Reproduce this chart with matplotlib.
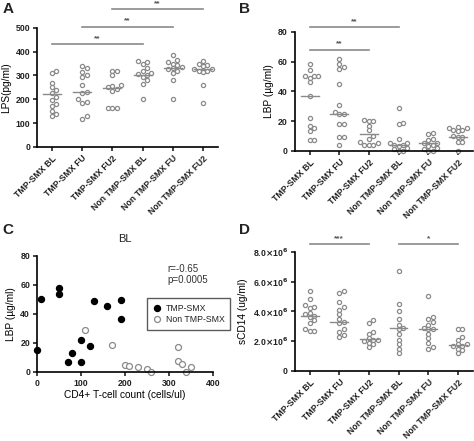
import numpy as np
import matplotlib
matplotlib.use('Agg')
import matplotlib.pyplot as plt

plt.rcParams['font.family'] = ['Liberation Sans', 'DejaVu Sans']
plt.rcParams['font.weight'] = 'bold'
plt.rcParams['text.color'] = '#222222'
plt.rcParams['xtick.color'] = '#222222'
plt.rcParams['ytick.color'] = '#222222'

groups = ['TMP-SMX BL', 'TMP-SMX FU', 'TMP-SMX FU2',
          'Non TMP-SMX BL', 'Non TMP-SMX FU', 'Non TMP-SMX FU2']

# panel A: LPS (pg/ml)
lps = [
    [320, 310, 270, 250, 240, 225, 210, 195, 180, 170, 150, 140, 130],
    [340, 330, 315, 300, 295, 260, 230, 225, 200, 190, 185, 130, 115],
    [320, 320, 300, 260, 255, 250, 245, 235, 165, 165, 165],
    [360, 355, 350, 330, 320, 310, 305, 300, 295, 280, 265, 200],
    [385, 365, 355, 350, 345, 335, 330, 325, 320, 310, 280, 200],
    [360, 350, 345, 340, 325, 325, 320, 320, 315, 260, 185],
]
lps_med = [220, 230, 248, 303, 330, 325]
lps_sig = [(1, 4, 430, '**'), (2, 5, 505, '**'), (3, 6, 578, '**')]

# panel B: LBP (ug/ml)
lbp = [
    [58, 54, 50, 50, 49, 50, 46, 37, 22, 17, 15, 13, 7, 7],
    [62, 58, 56, 55, 45, 31, 26, 25, 25, 18, 18, 9, 9, 4],
    [21, 20, 20, 17, 14, 10, 8, 6, 5, 4, 4, 4],
    [29, 19, 18, 8, 5, 5, 4, 4, 3, 2, 1, 0, 0],
    [12, 11, 8, 7, 5, 5, 4, 3, 2, 1, 0, 0],
    [16, 15, 15, 14, 14, 13, 10, 9, 9, 6, 6, 0],
]
lbp_med = [37, 25, 11, 4, 5, 9]
lbp_sig = [(1, 3, 68, '**'), (1, 4, 83, '**')]

# panel C: CD4 count vs LBP at BL
tmp_cd4 = [0, 10, 50, 50, 70, 80, 100, 100, 120, 130, 160, 190, 190]
tmp_lbp = [15, 50, 57.5, 53.5, 7, 13, 22, 6.5, 17.5, 49, 45.5, 49.5, 36.5]
non_cd4 = [110, 170, 200, 210, 230, 250, 260, 320, 320, 330, 340, 350]
non_lbp = [29, 18.5, 4.5, 4, 3.5, 2, 0, 17, 7.5, 5.5, 0, 3.5]

# panel D: sCD14 (x10^6 ug/ml)
scd14 = [
    [5.4, 4.8, 4.4, 4.3, 4.2, 3.9, 3.8, 3.7, 3.6, 3.4, 3.2, 2.8, 2.7, 2.7],
    [5.4, 5.2, 4.6, 4.3, 4.1, 3.8, 3.5, 3.3, 3.2, 2.8, 2.6, 2.4, 2.3],
    [3.4, 3.2, 2.6, 2.5, 2.2, 2.1, 2.1, 2.0, 1.9, 1.8, 1.6],
    [6.7, 4.5, 4.0, 3.5, 3.1, 2.9, 2.8, 2.5, 2.1, 1.8, 1.5, 1.2],
    [5.0, 3.6, 3.5, 3.3, 3.1, 2.9, 2.8, 2.8, 2.5, 2.2, 1.9, 1.6, 1.5],
    [2.8, 2.8, 2.3, 2.1, 1.8, 1.8, 1.7, 1.7, 1.5, 1.4, 1.2],
]
scd14_med = [3.7, 3.3, 2.15, 2.85, 2.8, 1.75]
scd14_sig = [(1, 3, 8.5, '***'), (4, 6, 8.5, '*')]

grey = '#8a8a8a'
TS = 6.3   # tick label size
LS = 7.3   # axis label size


def swarm(vals, ymax, hpx=119.0, step=30.0, r=4.4):
    # simple beeswarm: offsets in pixels converted to category units
    vals = np.asarray(vals, float)
    xs = np.zeros(len(vals))
    placed = []
    for i in np.argsort(vals):
        y = vals[i] / ymax * hpx
        for k in [0, 1, -1, 2, -2, 3, -3, 4, -4]:
            x = k * r
            if all((x - px) ** 2 + (y - py) ** 2 >= r * r * 0.95 for px, py in placed):
                break
        placed.append((x, y))
        xs[i] = x / step
    return xs


def dot_panel(ax, data, meds, ymax, sig, ylabel, yticks, yticklabels, step):
    for i, vals in enumerate(data):
        xs = i + 1 + swarm(vals, ymax, step=step)
        ax.plot(xs, vals, 'o', ms=3.0, mfc='white', mec=grey, mew=0.9, clip_on=False)
        ax.plot([i + 1 - 0.3, i + 1 + 0.3], [meds[i], meds[i]], color=grey, lw=1)
    for a, b, y, s in sig:
        ax.plot([a, b], [y, y], color=grey, lw=1.2, clip_on=False)
        ax.text((a + b) / 2, y + ymax * 0.02, s, ha='center', va='bottom',
                fontsize=6, color='#555555', clip_on=False)
    ax.set_xlim(0.5, 6.5)
    ax.set_ylim(0, ymax)
    ax.set_xticks(range(1, 7))
    ax.set_xticklabels(groups, rotation=45, ha='right', rotation_mode='anchor', fontsize=TS)
    ax.set_yticks(yticks)
    ax.set_yticklabels(yticklabels, fontsize=TS)
    ax.set_ylabel(ylabel, fontsize=LS, labelpad=3)
    for s in ['top', 'right']:
        ax.spines[s].set_visible(False)
    for s in ['left', 'bottom']:
        ax.spines[s].set_linewidth(1.2)
    ax.tick_params(width=1.2, length=3, pad=2)


fig = plt.figure(figsize=(4.74, 4.41), dpi=100)

axA = fig.add_axes([0.078, 0.667, 0.382, 0.27])
dot_panel(axA, lps, lps_med, 500, lps_sig, 'LPS(pg/ml)',
          [0, 100, 200, 300, 400, 500], ['0', '100', '200', '300', '400', '500'], 30)

axB = fig.add_axes([0.622, 0.658, 0.375, 0.27])
dot_panel(axB, lbp, lbp_med, 80, lbp_sig, 'LBP (\u00b5g/ml)',
          [0, 20, 40, 60, 80], ['0', '20', '40', '60', '80'], 29.5)

axD = fig.add_axes([0.622, 0.159, 0.375, 0.27])
dot_panel(axD, scd14, scd14_med, 8.0, scd14_sig, 'sCD14 (ug/ml)',
          [0, 2, 4, 6, 8],
          ['0'] + [r'%.1f$\times$10$^{6}$' % v for v in [2, 4, 6, 8]], 29.5)

axC = fig.add_axes([0.078, 0.157, 0.371, 0.263])
axC.plot(tmp_cd4, tmp_lbp, 'o', ms=4.3, mfc='black', mec='black', ls='none',
         clip_on=False, label='TMP-SMX')
axC.plot(non_cd4, non_lbp, 'o', ms=4.3, mfc='white', mec=grey, mew=0.9, ls='none',
         clip_on=False, label='Non TMP-SMX')
axC.set_xlim(0, 400)
axC.set_ylim(0, 80)
axC.set_xticks([0, 100, 200, 300, 400])
axC.set_yticks([0, 20, 40, 60, 80])
axC.tick_params(labelsize=TS, width=1.2, length=3, pad=2)
axC.set_xlabel('CD4+ T-cell count (cells/ul)', fontsize=LS, labelpad=2)
axC.set_ylabel('LBP (\u00b5g/ml)', fontsize=LS, labelpad=3)
axC.set_title('BL', fontsize=8, pad=10)
for s in ['top', 'right']:
    axC.spines[s].set_visible(False)
for s in ['left', 'bottom']:
    axC.spines[s].set_linewidth(1.2)
axC.text(0.74, 0.93, 'r=-0.65\np=0.0005', transform=axC.transAxes, fontsize=7,
         fontweight='normal', va='top', ha='left', color='#333333')
leg = axC.legend(loc='upper left', bbox_to_anchor=(0.6, 0.67), frameon=True,
                 fancybox=False, edgecolor='#333333',
                 prop={'weight': 'normal', 'size': 6.3}, handletextpad=0.4,
                 borderpad=0.6, labelspacing=0.3, handlelength=1.2)
leg.get_frame().set_linewidth(1.0)

for x, y, s in [(0.005, 0.995, 'A'), (0.505, 0.995, 'B'), (0.005, 0.495, 'C'), (0.505, 0.495, 'D')]:
    fig.text(x, y, s, fontsize=11, fontweight='bold', va='top', ha='left')

plt.savefig('out.png', dpi=100)
plt.close()
